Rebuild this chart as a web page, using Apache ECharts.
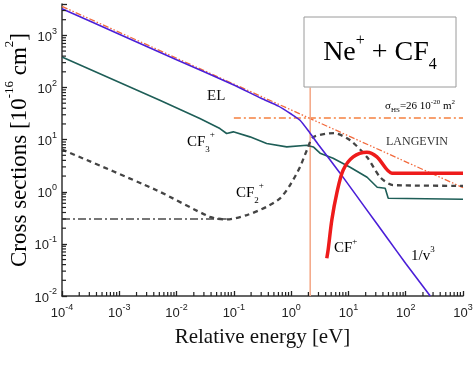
<!DOCTYPE html>
<html>
<head>
<meta charset="utf-8">
<script src="https://cdn.jsdelivr.net/npm/echarts@6/dist/echarts.min.js"></script>
<style>html,body{margin:0;padding:0;background:#fff}#c{width:474px;height:376px}</style>
</head>
<body>
<div id="c"></div>
<script>
// ---- data (energy in eV, cross section in 1e-16 cm^2) ----
const EL_E = [1e-4, 1e-3, 1e-2, 0.1, 0.3, 0.6, 1.0, 1.43, 2.14, 3.0, 7.1, 20, 50, 100, 268];
const EL_S = [3240, 1050, 340, 112, 62, 44, 31, 23.5, 13.3, 8.0, 2.3, 0.48, 0.12, 0.042, 0.01];

const LANG_E = [1e-4, 1e3];
const LANG_S = [3600, 1.2];

const HS_E = [0.1, 1000];
const HS_S = [26, 26];

const VLINE_E = [2.15, 2.15];
const VLINE_S = [100, 0.01];

const CF3_E = [1e-4, 0.0051, 0.0255, 0.0571, 0.0748, 0.0977, 0.191, 0.374, 0.838, 1.88, 2.44, 3.2, 5.4, 10.7, 21.2, 31.8, 43.8, 49.5, 1000];
const CF3_S = [384, 57, 25.4, 16.3, 13.1, 14.1, 11.3, 8.4, 7.25, 7.8, 7.25, 5.5, 4.4, 2.96, 1.9, 1.22, 1.17, 0.75, 0.72];

const CF2_E = [1e-4, 0.00447, 0.0382, 0.0748, 0.168, 0.374, 0.64, 0.957, 1.43, 1.88, 2.42, 5.6, 10.7, 21.2, 35.8, 60.4, 1000];
const CF2_S = [6.46, 1.07, 0.33, 0.294, 0.356, 0.514, 0.745, 1.34, 3.0, 6.26, 11.1, 13.3, 9.75, 4.6, 1.9, 1.34, 1.3];

const DD_E = [1e-4, 0.075];
const DD_S = [0.3, 0.3];

const CF1_E = [4.19, 4.42, 5.13, 6.27, 8.07, 12.1, 21, 31.4, 57.4, 75, 1000];
const CF1_S = [0.053, 0.076, 0.286, 0.94, 2.59, 4.67, 5.74, 4.67, 2.27, 2.27, 2.27];

const X_MIN = 1e-4, X_MAX = 1e3, Y_MIN = 1e-2, Y_MAX = 4000;
const X_DECADES = [-4, -3, -2, -1, 0, 1, 2];
const Y_DECADES = [-2, -1, 0, 1, 2, 3];
const MINOR_MULT = [2, 3, 4, 5, 6, 7, 8, 9];

function pairs(xs, ys) { return xs.map((x, i) => [x, ys[i]]); }

// minor tick positions (log-spaced, as on a log axis)
const xMinor = [];
X_DECADES.forEach(d => MINOR_MULT.forEach(m => { const v = m * Math.pow(10, d); if (v < X_MAX) xMinor.push([v, Y_MIN]); }));
const yMinor = [];
Y_DECADES.forEach(d => MINOR_MULT.forEach(m => { const v = m * Math.pow(10, d); if (v < Y_MAX) yMinor.push([X_MIN, v]); }));

const serif = 'Liberation Serif, Times New Roman, serif';
const sans = 'Liberation Sans, Arial, sans-serif';

function powLabel(v) {
  const l = Math.log10(v);
  if (Math.abs(l - Math.round(l)) > 1e-6) return '';
  return '{b|10}{s|' + Math.round(l) + '}';
}
const tickRich = {
  b: { fontSize: 13, fontFamily: sans, color: '#222', lineHeight: 17, verticalAlign: 'bottom' },
  s: { fontSize: 9, fontFamily: sans, color: '#222', verticalAlign: 'top' }
};

function line(name, xs, ys, color, width, type, extra) {
  return Object.assign({
    name: name, type: 'line', data: pairs(xs, ys), showSymbol: false, symbol: 'none',
    lineStyle: { color: color, width: width, type: type || 'solid' }, silent: true, z: 3
  }, extra || {});
}

function minorTicks(data, horizontal) {
  return {
    type: 'scatter', data: data, silent: true, z: 6, clip: false,
    symbol: 'rect',
    symbolSize: horizontal ? [4, 1.2] : [1.2, 4],
    symbolOffset: horizontal ? [2, 0] : [0, -2],
    itemStyle: { color: '#222', opacity: 1 },
    emphasis: { disabled: true }
  };
}

function richLabel(x, y, text, size, subSize, lh) {
  return { type: 'text', x: x, y: y, z: 11, style: {
    text: text, verticalAlign: 'middle',
    rich: {
      b: { fontFamily: serif, fontSize: size, color: '#111', lineHeight: lh, verticalAlign: 'middle' },
      p: { fontFamily: serif, fontSize: subSize, color: '#111', verticalAlign: 'top' },
      q: { fontFamily: serif, fontSize: subSize, color: '#111', verticalAlign: 'bottom' }
    } } };
}

const chart = echarts.init(document.getElementById('c'), null, { renderer: 'canvas' });
chart.setOption({
  animation: false,
  backgroundColor: '#fff',
  grid: { left: 62, right: 11, top: 4, bottom: 80, containLabel: false, outerBoundsMode: 'none' },
  xAxis: {
    type: 'log', logBase: 10, min: X_MIN, max: X_MAX,
    name: 'Relative energy [eV]', nameLocation: 'middle', nameGap: 31,
    nameTextStyle: { fontFamily: serif, fontSize: 21, color: '#111', verticalAlign: 'top' },
    axisLine: { lineStyle: { color: '#333', width: 1.5 } },
    axisTick: { show: true, inside: true, length: 5, lineStyle: { color: '#222', width: 1.3 } },
    minorTick: { show: false },
    axisLabel: { formatter: powLabel, rich: tickRich, margin: 7 },
    splitLine: { show: false }
  },
  yAxis: {
    type: 'log', logBase: 10, min: Y_MIN, max: Y_MAX,
    axisLine: { lineStyle: { color: '#333', width: 1.5 } },
    axisTick: { show: true, inside: true, length: 5, lineStyle: { color: '#222', width: 1.3 } },
    minorTick: { show: false },
    axisLabel: { formatter: powLabel, rich: tickRich, margin: 5 },
    splitLine: { show: false }
  },
  series: [
    line('LANGEVIN', LANG_E, LANG_S, '#F26A3D', 1.3, [6, 2, 1.5, 2, 1.5, 2]),
    line('sigmaHS', HS_E, HS_S, '#F5803F', 1.5, [7, 3, 2, 3]),
    line('vline', VLINE_E, VLINE_S, '#F4A684', 1.5),
    line('CF3+', CF3_E, CF3_S, '#1E5E57', 1.6),
    line('CF2+', CF2_E, CF2_S, '#444444', 2.3, [5, 4], { smooth: 0.25 }),
    line('dd', DD_E, DD_S, '#4a4a4a', 1.6, [8, 3, 2, 3]),
    line('EL', EL_E, EL_S, '#4B1FD8', 1.6, 'solid', { smooth: 0.2 }),
    line('CF+', CF1_E, CF1_S, '#EE1B1B', 3.5, 'solid', { smooth: 0.3 }),
    minorTicks(xMinor, false),
    minorTicks(yMinor, true)
  ],
  graphic: [
    { type: 'text', x: 17, y: 150, rotation: Math.PI / 2, z: 11, style: {
      text: '{t|Cross sections [10}{s|-16}{t| cm}{s|2}{t|]}', align: 'center', verticalAlign: 'middle',
      rich: {
        t: { fontFamily: serif, fontSize: 23, color: '#111', lineHeight: 28, verticalAlign: 'bottom' },
        s: { fontFamily: serif, fontSize: 13, color: '#111', verticalAlign: 'top' }
      } } },
    { type: 'rect', shape: { x: 304, y: 17, width: 152, height: 70 }, style: { fill: '#fff', stroke: '#9a9a9a', lineWidth: 1 }, z: 10 },
    { type: 'text', x: 380, y: 53, z: 11, style: {
      text: '{b|Ne}{p|+}{b| + CF}{q|4}', align: 'center', verticalAlign: 'middle',
      rich: {
        b: { fontFamily: serif, fontSize: 28, color: '#111', lineHeight: 40, verticalAlign: 'middle' },
        p: { fontFamily: serif, fontSize: 16, color: '#111', verticalAlign: 'top' },
        q: { fontFamily: serif, fontSize: 16, color: '#111', verticalAlign: 'bottom' }
      } } },
    { type: 'text', x: 207, y: 96, z: 11, style: { text: 'EL', fontFamily: serif, fontSize: 15, fill: '#111', verticalAlign: 'middle' } },
    richLabel(187, 142, '{b|CF}{q|3}{p|+}', 15, 9, 24),
    richLabel(236, 193, '{b|CF}{q|2}{p|+}', 15, 9, 24),
    richLabel(334, 248, '{b|CF}{p|+}', 15, 9, 22),
    richLabel(411, 256, '{b|1/v}{p|3}', 15, 9, 22),
    { type: 'text', x: 386, y: 142, z: 11, style: { text: 'LANGEVIN', fontFamily: serif, fontSize: 12, fill: '#333', verticalAlign: 'middle' } },
    richLabel(385, 106, '{b|σ}{q|HS}{b|=26 10}{p|-20}{b| m}{p|2}', 11, 7, 15)
  ]
});
</script>
</body>
</html>
